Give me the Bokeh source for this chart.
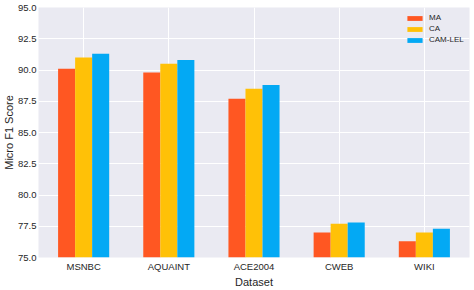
from bokeh.plotting import figure
from bokeh.models import ColumnDataSource, FactorRange, Range1d, FixedTicker, NumeralTickFormatter, Legend, LegendItem
from bokeh.transform import dodge
from bokeh.embed import file_html
from bokeh.resources import INLINE

datasets = ["MSNBC", "AQUAINT", "ACE2004", "CWEB", "WIKI"]
ma = [90.1, 89.8, 87.7, 77.0, 76.3]
ca = [91.0, 90.5, 88.5, 77.7, 77.0]
cam_lel = [91.3, 90.8, 88.8, 77.8, 77.3]
series_names = ["MA", "CA", "CAM-LEL"]
colors = ["#FF5722", "#FFC107", "#03A9F4"]
y_ticks = [75.0, 77.5, 80.0, 82.5, 85.0, 87.5, 90.0, 92.5, 95.0]

src = ColumnDataSource(dict(x=datasets, MA=ma, CA=ca, CAMLEL=cam_lel))

FONT = "Liberation Sans"
p = figure(
    width=474, height=290,
    x_range=FactorRange(*datasets, range_padding=0.012),
    y_range=Range1d(75, 95),
    output_backend="svg", toolbar_location=None,
    min_border_left=0, min_border_right=5, min_border_top=7, min_border_bottom=0,
)
p.background_fill_color = "#EAEAF2"
p.border_fill_color = "white"
p.outline_line_color = None

renderers = []
for off, col, c, name in zip([-0.2, 0.0, 0.2], ["MA", "CA", "CAMLEL"], colors, series_names):
    r = p.vbar(x=dodge("x", off, range=p.x_range), top=col, bottom=75, width=0.2,
               source=src, fill_color=c, line_color=None)
    renderers.append((name, r))

p.grid.grid_line_color = "white"
p.grid.grid_line_width = 1
p.yaxis.ticker = FixedTicker(ticks=y_ticks)
p.yaxis.formatter = NumeralTickFormatter(format="0.0")

for ax in [p.xaxis[0], p.yaxis[0]]:
    ax.axis_line_color = None
    ax.major_tick_line_color = None
    ax.minor_tick_line_color = None
    ax.major_tick_out = 0
    ax.major_tick_in = 0
    ax.major_label_text_font = FONT
    ax.major_label_text_font_size = "9.5px"
    ax.major_label_text_color = "#262626"
    ax.axis_label_text_font = FONT
    ax.axis_label_text_font_size = "11px"
    ax.axis_label_text_font_style = "normal"
    ax.axis_label_text_color = "#262626"
    ax.major_label_standoff = 3

p.xaxis.axis_label = "Dataset"
p.yaxis.axis_label = "Micro F1 Score"
p.xaxis.axis_label_standoff = 1
p.yaxis.axis_label_standoff = 0
p.yaxis.major_label_standoff = 2

legend = Legend(
    items=[LegendItem(label=n, renderers=[r]) for n, r in renderers],
    location=(364, 209),
    background_fill_alpha=0, border_line_alpha=0,
    glyph_width=19, glyph_height=6, label_height=11, spacing=0,
    label_standoff=5, padding=3, margin=0,
    label_text_font=FONT, label_text_font_size="8px", label_text_color="#262626",
)
p.add_layout(legend)

open("out.html", "w").write(file_html(p, INLINE))
